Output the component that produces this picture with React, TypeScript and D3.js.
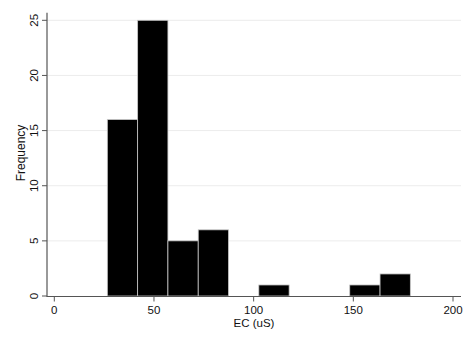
import React from "react";
import * as d3 from "d3";

const binStart = 26.6;
const binWidth = 15.2;
const counts = [16, 25, 5, 6, 0, 1, 0, 0, 1, 2];
const xTicks = [0, 50, 100, 150, 200];
const yTicks = [0, 5, 10, 15, 20, 25];
const xLabel = "EC (uS)";
const yLabel = "Frequency";

export default function App() {
  const W = 474, H = 344;
  const x = d3.scaleLinear().domain([0, 200]).range([54.3, 453]);
  const y = d3.scaleLinear().domain([0, 25]).range([296, 20.3]);
  const font = "'Liberation Sans', Arial, Helvetica, sans-serif";
  const bins = counts.map((c, i) => ({ x0: binStart + i * binWidth, x1: binStart + (i + 1) * binWidth, c }));
  return (
    <div style={{ position: "absolute", left: 0, top: 0 }}>
      <svg width={W} height={H} style={{ display: "block", background: "#fff" }} fontFamily={font}>
        {yTicks.filter(t => t > 0).map(t => (
          <line key={"g" + t} x1={47} x2={461} y1={y(t)} y2={y(t)} stroke="#ececec" strokeWidth={1} />
        ))}
        {bins.filter(b => b.c > 0).map((b, i) => (
          <rect key={i} x={x(b.x0)} y={y(b.c)} width={x(b.x1) - x(b.x0)} height={y(0) - y(b.c)}
            fill="#000" stroke="#c8c8c8" strokeWidth={0.8} />
        ))}
        <line x1={47} x2={47} y1={12.7} y2={296.5} stroke="#555" strokeWidth={1.2} />
        <line x1={46.5} x2={461} y1={296.5} y2={296.5} stroke="#555" strokeWidth={1.2} />
        {yTicks.map(t => (
          <g key={"y" + t}>
            <line x1={42} x2={47} y1={y(t)} y2={y(t)} stroke="#555" strokeWidth={1} />
            <text transform={`translate(37.5,${y(t)}) rotate(-90)`} textAnchor="middle" fontSize={11.5} fill="#111">{t}</text>
          </g>
        ))}
        {xTicks.map(t => (
          <g key={"x" + t}>
            <line x1={x(t)} x2={x(t)} y1={296.5} y2={301.5} stroke="#555" strokeWidth={1} />
            <text x={x(t)} y={313.5} textAnchor="middle" fontSize={11.5} fill="#111">{t}</text>
          </g>
        ))}
        <text x={254} y={326.8} textAnchor="middle" fontSize={11.5} fill="#111">{xLabel}</text>
        <text transform={`translate(25,${153}) rotate(-90)`} textAnchor="middle" fontSize={12} fill="#111">{yLabel}</text>
      </svg>
    </div>
  );
}
